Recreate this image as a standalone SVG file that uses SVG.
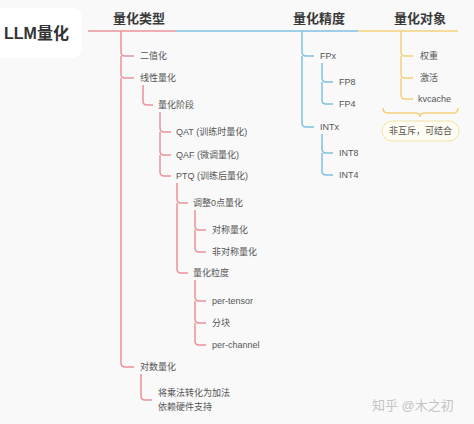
<svg xmlns="http://www.w3.org/2000/svg" width="474" height="424" viewBox="0 0 474 424">
<style>
text{font-family:"Liberation Sans","Noto Sans CJK SC",sans-serif;fill:#555;font-size:9px}
.title{font-size:13px;font-weight:bold;fill:#3a3a3a;text-anchor:middle}
.root{font-size:16px;font-weight:bold;fill:#333}
.r{stroke:#e8939a;fill:none;stroke-width:1.5}
.b{stroke:#7fc0e0;fill:none;stroke-width:1.5}
.y{stroke:#f4d07c;fill:none;stroke-width:1.5}
</style>
<rect width="474" height="424" fill="#f9f9f9"/>
<rect x="-10" y="8" width="92" height="50" rx="10" fill="#ffffff"/>
<g id="connectors">
<path class="r" d="M88,31 H176"/>
<path class="b" d="M176,31 H358"/>
<path class="y" d="M358,31 H458"/>
<!-- red trunk -->
<path class="r" d="M121,31 V52 Q121,56 125,56 H134"/>
<path class="r" d="M121,56 V74 Q121,78 125,78 H134"/>
<path class="r" d="M121,78 V363 Q121,367 125,367 H134"/>
<path class="r" d="M143,85 V101 Q143,105 147,105 H153"/>
<path class="r" d="M160,112 V128 Q160,132 164,132 H171"/>
<path class="r" d="M160,132 V151 Q160,155 164,155 H171"/>
<path class="r" d="M160,155 V172 Q160,176 164,176 H171"/>
<path class="r" d="M177,183 V199 Q177,203 181,203 H188"/>
<path class="r" d="M177,203 V269 Q177,273 181,273 H188"/>
<path class="r" d="M195,210 V226 Q195,230 199,230 H206"/>
<path class="r" d="M195,230 V248 Q195,252 199,252 H206"/>
<path class="r" d="M195,280 V297 Q195,301 199,301 H206"/>
<path class="r" d="M195,301 V319 Q195,323 199,323 H206"/>
<path class="r" d="M195,323 V341 Q195,345 199,345 H206"/>
<path class="r" d="M141,374 V396 Q141,400 145,400 H152"/>
<!-- blue -->
<path class="b" d="M302,31 V52 Q302,56 306,56 H314"/>
<path class="b" d="M302,56 V123 Q302,127 306,127 H314"/>
<path class="b" d="M322,63 V78 Q322,82 326,82 H333"/>
<path class="b" d="M322,82 V100 Q322,104 326,104 H333"/>
<path class="b" d="M322,134 V149 Q322,153 326,153 H333"/>
<path class="b" d="M322,153 V171 Q322,175 326,175 H333"/>
<!-- yellow -->
<path class="y" d="M401,31 V52 Q401,56 405,56 H413"/>
<path class="y" d="M401,56 V74 Q401,78 405,78 H413"/>
<path class="y" d="M401,78 V95 Q401,99 405,99 H413"/>
<path class="y" d="M383,108 Q383,113 388,113 H415 Q420,113 420,117 Q420,113 425,113 H453 Q458,113 458,108" stroke-width="1"/>
</g>
<g id="root"><text class="root" x="4" y="39">LLM量化</text></g>
<g id="cat-type"><text class="title" x="139" y="23">量化类型</text></g>
<g id="cat-prec"><text class="title" x="319" y="23">量化精度</text></g>
<g id="cat-obj"><text class="title" x="420" y="23">量化对象</text></g>
<g id="n-binary"><text x="140" y="59">二值化</text></g>
<g id="n-linear"><text x="140" y="81">线性量化</text></g>
<g id="n-stage"><text x="158" y="108">量化阶段</text></g>
<g id="n-qat"><text x="176" y="135">QAT (训练时量化)</text></g>
<g id="n-qaf"><text x="176" y="158">QAF (微调量化)</text></g>
<g id="n-ptq"><text x="176" y="179">PTQ (训练后量化)</text></g>
<g id="n-zero"><text x="193" y="206">调整0点量化</text></g>
<g id="n-sym"><text x="212" y="233">对称量化</text></g>
<g id="n-asym"><text x="212" y="255">非对称量化</text></g>
<g id="n-gran"><text x="193" y="276">量化粒度</text></g>
<g id="n-pt"><text x="212" y="304">per-tensor</text></g>
<g id="n-block"><text x="212" y="326">分块</text></g>
<g id="n-pc"><text x="212" y="348">per-channel</text></g>
<g id="n-log"><text x="140" y="370">对数量化</text></g>
<g id="n-log-note"><text x="158" y="396">将乘法转化为加法</text><text x="158" y="410">依赖硬件支持</text></g>
<g id="n-fpx"><text x="320" y="59">FPx</text></g>
<g id="n-fp8"><text x="339" y="85">FP8</text></g>
<g id="n-fp4"><text x="339" y="107">FP4</text></g>
<g id="n-intx"><text x="320" y="130">INTx</text></g>
<g id="n-int8"><text x="339" y="156">INT8</text></g>
<g id="n-int4"><text x="339" y="178">INT4</text></g>
<g id="n-weight"><text x="420" y="59">权重</text></g>
<g id="n-act"><text x="420" y="81">激活</text></g>
<g id="n-kv"><text x="418" y="102">kvcache</text></g>
<g id="n-note"><rect x="382" y="121" width="77" height="20" rx="10" fill="#fffdf3" stroke="#f3e2a8" stroke-width="1"/><text x="420.5" y="134" text-anchor="middle">非互斥，可结合</text></g>
<text x="372" y="410" style="font-size:13px;fill:#c4c4c4">知乎 @木之初</text>
</svg>
